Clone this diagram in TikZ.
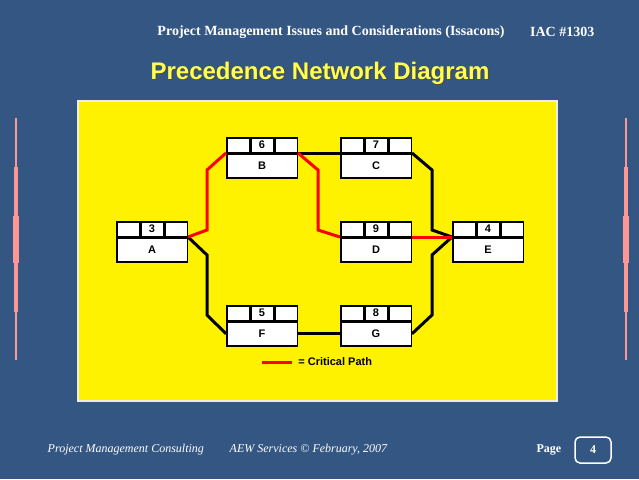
\documentclass[tikz,border=0pt]{standalone}
\usepackage{fontspec}
\setmainfont{Liberation Serif}
\setsansfont{Liberation Sans}
\definecolor{titleyellow}{RGB}{255,255,80}
\definecolor{slideblue}{RGB}{52,86,130}
\definecolor{barpink}{RGB}{255,150,150}
\begin{document}
\begin{tikzpicture}
	[x=1pt,y=-1pt,thick,
		cell/.style={draw=black,line width=1.5pt,fill=white,minimum width=22.5pt,minimum height=14.5pt,inner sep=0pt,font=\sffamily\bfseries\fontsize{11}{12}\selectfont},
		body/.style={draw=black,line width=1.5pt,fill=white,minimum width=70.5pt,minimum height=24pt,inner sep=0pt,font=\sffamily\bfseries\fontsize{11}{12}\selectfont},
		crit/.style={red,line width=3pt},
		norm/.style={black,line width=3pt},
		deco/.style={fill=barpink}]

	\fill[slideblue] (0,0) rectangle (639,479);
	\useasboundingbox (0,0) rectangle (639,479);

	% side bars
	\foreach \xx in {16,626} {
		\fill[deco] (\xx-1,118) rectangle (\xx+1,360);
		\fill[deco] (\xx-2,167) rectangle (\xx+2,312);
		\fill[deco] (\xx-3,216) rectangle (\xx+3,263);
	}

	\node[white,font=\bfseries\fontsize{14}{16}\selectfont] (head) at (331,32) {Project Management Issues and Considerations (Issacons)};
	\node[white,font=\bfseries\fontsize{14}{16}\selectfont,anchor=east] (iac) at (598,32) {IAC \#1303};
	\node[black!70,font=\sffamily\bfseries\fontsize{24}{28}\selectfont] at (321.5,74.5) {Precedence Network Diagram};
	\node[titleyellow,font=\sffamily\bfseries\fontsize{24}{28}\selectfont] (title) at (320,73) {Precedence Network Diagram};

	\draw[fill=yellow,draw=white!85!gray,line width=1.5pt] (78,101) rectangle (557,401);

	% activity boxes
	\foreach \nm/\xx/\yy/\dur in {A/152/221/3,B/262/137/6,C/376/137/7,D/376/221/9,E/488/221/4,F/262/305/5,G/376/305/8} {
		\node[body,anchor=north] (\nm) at (\xx,\yy+16) {\nm};
		\node[cell,anchor=south] (\nm m) at (\nm.north) {\dur};
		\node[cell,anchor=east] (\nm l) at (\nm m.west) {};
		\node[cell,anchor=west] (\nm r) at (\nm m.east) {};
	}

	\draw[norm] (A.north east) -- (207,255) -- (207,315) -- (F.west);
	\draw[norm] (B.north east) -- (C.north west);
	\draw[norm] (F.east) -- (G.west);
	\draw[norm] (C.north east) -- (432,170) -- (432,230) -- (E.north west);
	\draw[norm] (G.east) -- (432,315) -- (432,255) -- (E.north west);
	\draw[crit] (A.north east) -- (207,230) -- (207,170) -- (B.north west);
	\draw[crit] (B.north east) -- (318,170) -- (318,230) -- (D.north west);
	\draw[crit] (D.north east) -- (E.north west);

	\coordinate (k1) at (262,362);
	\coordinate (k2) at (292,362);
	\draw[crit] (k1) -- (k2);
	\node[anchor=west,font=\sffamily\bfseries\fontsize{11}{12}\selectfont,inner sep=0pt] (key) at (298,362) {= Critical Path};

	\node[white,font=\itshape\fontsize{12}{14}\selectfont,anchor=west] (foot) at (44,450) {Project Management Consulting};
	\node[white,font=\itshape\fontsize{12}{14}\selectfont,anchor=west] (aew) at (226,450) {AEW Services \copyright{} February, 2007};
	\node[white,font=\bfseries\fontsize{12}{14}\selectfont,anchor=east] (page) at (565,450) {Page};
	\draw[white,line width=1.5pt,rounded corners=5pt] (575,437) rectangle (611,463);
	\node[white,font=\bfseries\fontsize{12}{14}\selectfont] (pnum) at (593,450) {4};
\end{tikzpicture}
\end{document}
